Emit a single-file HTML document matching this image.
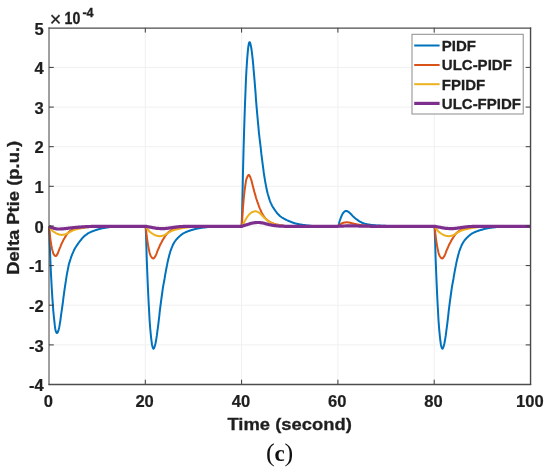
<!DOCTYPE html>
<html><head><meta charset="utf-8"><title>Delta Ptie plot (c)</title>
<style>html,body{margin:0;padding:0;background:#fff}svg{display:block}text{font-family:"Liberation Sans",Arial,Helvetica,sans-serif;font-weight:bold;fill:#1f1f1f;stroke:#1f1f1f;stroke-width:0.3px}.ser{font-family:"Liberation Serif","Times New Roman",serif;fill:#111;stroke:none}</style></head><body>
<svg width="550" height="474" viewBox="0 0 550 474">
<rect width="550" height="474" fill="#fff"/>
<path d="M145.3,27.8 V384.5 M241.6,27.8 V384.5 M337.9,27.8 V384.5 M434.2,27.8 V384.5 M49.0,344.9 H530.5 M49.0,305.2 H530.5 M49.0,265.6 H530.5 M49.0,226.0 H530.5 M49.0,186.3 H530.5 M49.0,146.7 H530.5 M49.0,107.1 H530.5 M49.0,67.4 H530.5" stroke="#f0f0f0" stroke-width="1" fill="none"/>
<g fill="none" stroke-linejoin="round" stroke-linecap="butt">
<path d="M49.0,226.3 L49.5,238.8 L50.0,250.5 L50.4,261.6 L50.9,272.2 L51.4,281.8 L51.9,290.6 L52.4,298.6 L52.9,305.2 L53.3,311.0 L53.8,316.0 L54.3,320.7 L54.8,325.4 L55.3,329.0 L55.7,330.8 L56.2,332.1 L56.7,332.9 L57.2,333.0 L57.7,332.3 L58.1,331.2 L58.6,329.8 L59.1,327.9 L59.6,325.2 L60.1,322.1 L60.6,318.8 L61.0,315.6 L61.5,312.2 L62.0,308.7 L62.5,305.0 L63.0,301.4 L63.4,297.8 L63.9,294.3 L64.4,290.7 L64.9,287.2 L65.4,283.8 L65.9,280.7 L66.3,277.8 L66.8,274.9 L67.3,272.1 L67.8,269.6 L68.3,267.2 L68.7,265.1 L69.2,263.3 L69.7,261.6 L70.2,260.0 L70.7,258.6 L71.1,257.2 L71.6,255.9 L72.1,254.6 L72.6,253.4 L73.1,252.3 L73.6,251.2 L74.0,250.2 L74.5,249.2 L75.0,248.3 L75.5,247.5 L76.0,246.7 L76.4,246.0 L76.9,245.3 L77.4,244.6 L77.9,243.9 L78.4,243.2 L78.9,242.5 L79.3,241.9 L79.8,241.3 L80.3,240.7 L80.8,240.1 L81.3,239.5 L81.7,238.9 L82.2,238.3 L82.7,237.7 L83.2,237.2 L83.7,236.8 L84.1,236.3 L84.6,235.9 L85.1,235.5 L85.6,235.1 L86.1,234.8 L86.6,234.4 L87.0,234.1 L87.5,233.7 L88.0,233.4 L88.5,233.1 L89.0,232.9 L89.4,232.6 L89.9,232.4 L90.4,232.1 L90.9,231.9 L91.4,231.7 L91.9,231.5 L92.3,231.3 L92.8,231.1 L93.3,230.9 L93.8,230.8 L94.3,230.6 L94.7,230.4 L95.2,230.3 L95.7,230.1 L96.2,230.0 L96.7,229.8 L97.2,229.7 L97.6,229.5 L98.1,229.4 L98.6,229.2 L99.1,229.1 L99.6,229.0 L100.0,228.9 L100.5,228.7 L101.0,228.6 L101.5,228.5 L102.0,228.4 L102.4,228.3 L102.9,228.2 L103.4,228.1 L103.9,228.0 L104.4,227.9 L104.9,227.8 L105.3,227.7 L105.8,227.7 L106.3,227.6 L106.8,227.5 L107.3,227.4 L107.7,227.4 L108.2,227.3 L108.7,227.2 L109.2,227.2 L109.7,227.1 L110.2,227.1 L110.6,227.0 L111.1,227.0 L111.6,226.9 L112.1,226.9 L112.6,226.8 L113.0,226.8 L113.5,226.7 L114.0,226.7 L114.5,226.7 L115.0,226.6 L115.4,226.6 L115.9,226.5 L116.4,226.5 L116.9,226.5 L117.4,226.4 L117.9,226.4 L118.3,226.4 L118.8,226.4 L119.3,226.3 L119.8,226.3 L120.3,226.3 L120.7,226.3 L121.2,226.3 L145.3,226.3 L145.8,229.3 L146.3,244.0 L146.7,257.8 L147.2,270.8 L147.7,282.9 L148.2,293.9 L148.7,303.8 L149.2,312.7 L149.6,320.3 L150.1,327.0 L150.6,332.6 L151.1,337.6 L151.6,341.7 L152.0,344.5 L152.5,346.7 L153.0,348.3 L153.5,348.7 L154.0,348.2 L154.4,347.1 L154.9,345.8 L155.4,343.8 L155.9,341.2 L156.4,338.4 L156.9,335.2 L157.3,331.8 L157.8,328.2 L158.3,324.3 L158.8,320.2 L159.3,316.0 L159.7,311.8 L160.2,307.8 L160.7,304.0 L161.2,300.2 L161.7,296.5 L162.2,293.0 L162.6,289.8 L163.1,286.7 L163.6,283.9 L164.1,281.2 L164.6,278.5 L165.0,275.8 L165.5,273.1 L166.0,270.4 L166.5,267.8 L167.0,265.4 L167.4,263.1 L167.9,260.9 L168.4,258.7 L168.9,256.7 L169.4,254.8 L169.9,253.1 L170.3,251.5 L170.8,250.1 L171.3,248.8 L171.8,247.5 L172.3,246.4 L172.7,245.3 L173.2,244.3 L173.7,243.4 L174.2,242.5 L174.7,241.7 L175.2,241.0 L175.6,240.4 L176.1,239.8 L176.6,239.2 L177.1,238.7 L177.6,238.2 L178.0,237.7 L178.5,237.3 L179.0,236.8 L179.5,236.4 L180.0,235.9 L180.4,235.5 L180.9,235.1 L181.4,234.7 L181.9,234.3 L182.4,234.0 L182.9,233.7 L183.3,233.4 L183.8,233.1 L184.3,232.9 L184.8,232.6 L185.3,232.4 L185.7,232.2 L186.2,232.0 L186.7,231.8 L187.2,231.6 L187.7,231.4 L188.2,231.2 L188.6,231.0 L189.1,230.9 L189.6,230.7 L190.1,230.5 L190.6,230.4 L191.0,230.2 L191.5,230.1 L192.0,230.0 L192.5,229.8 L193.0,229.7 L193.4,229.5 L193.9,229.4 L194.4,229.3 L194.9,229.1 L195.4,229.0 L195.9,228.9 L196.3,228.8 L196.8,228.7 L197.3,228.6 L197.8,228.5 L198.3,228.4 L198.7,228.3 L199.2,228.2 L199.7,228.1 L200.2,228.0 L200.7,227.9 L201.2,227.9 L201.6,227.8 L202.1,227.7 L202.6,227.7 L203.1,227.6 L203.6,227.5 L204.0,227.5 L204.5,227.4 L205.0,227.4 L205.5,227.3 L206.0,227.3 L206.5,227.2 L206.9,227.2 L207.4,227.1 L207.9,227.1 L208.4,227.0 L208.9,227.0 L209.3,226.9 L209.8,226.9 L210.3,226.9 L210.8,226.8 L211.3,226.8 L211.7,226.7 L212.2,226.7 L212.7,226.7 L213.2,226.6 L213.7,226.6 L214.2,226.6 L214.6,226.6 L215.1,226.5 L215.6,226.5 L216.1,226.5 L216.6,226.5 L217.0,226.4 L217.5,226.4 L218.0,226.4 L218.5,226.4 L219.0,226.4 L219.5,226.3 L219.9,226.3 L220.4,226.3 L220.9,226.3 L221.4,226.3 L221.9,226.3 L222.3,226.3 L222.8,226.3 L241.6,226.3 L242.1,212.7 L242.6,191.1 L243.0,170.9 L243.5,151.8 L244.0,134.2 L244.5,118.4 L245.0,104.0 L245.5,91.5 L245.9,80.5 L246.4,71.0 L246.9,63.2 L247.4,56.1 L247.9,50.6 L248.3,46.9 L248.8,43.9 L249.3,42.2 L249.8,42.2 L250.3,43.4 L250.7,45.2 L251.2,47.5 L251.7,50.9 L252.2,55.0 L252.7,59.4 L253.2,64.3 L253.6,69.6 L254.1,75.2 L254.6,81.2 L255.1,87.4 L255.6,93.7 L256.0,99.9 L256.5,105.9 L257.0,111.6 L257.5,117.2 L258.0,122.7 L258.5,127.8 L258.9,132.6 L259.4,137.0 L259.9,141.2 L260.4,145.2 L260.9,149.3 L261.3,153.4 L261.8,157.4 L262.3,161.4 L262.8,165.2 L263.3,168.8 L263.7,172.2 L264.2,175.5 L264.7,178.7 L265.2,181.6 L265.7,184.4 L266.2,186.9 L266.6,189.1 L267.1,191.2 L267.6,193.2 L268.1,195.0 L268.6,196.6 L269.0,198.2 L269.5,199.6 L270.0,201.0 L270.5,202.3 L271.0,203.4 L271.5,204.4 L271.9,205.4 L272.4,206.3 L272.9,207.1 L273.4,207.8 L273.9,208.6 L274.3,209.3 L274.8,210.0 L275.3,210.7 L275.8,211.3 L276.3,212.0 L276.7,212.6 L277.2,213.3 L277.7,213.8 L278.2,214.4 L278.7,214.8 L279.2,215.3 L279.6,215.7 L280.1,216.1 L280.6,216.5 L281.1,216.8 L281.6,217.2 L282.0,217.5 L282.5,217.8 L283.0,218.1 L283.5,218.4 L284.0,218.7 L284.5,219.0 L284.9,219.2 L285.4,219.5 L285.9,219.7 L286.4,219.9 L286.9,220.2 L287.3,220.4 L287.8,220.6 L288.3,220.8 L288.8,221.0 L289.3,221.2 L289.8,221.4 L290.2,221.6 L290.7,221.8 L291.2,222.0 L291.7,222.2 L292.2,222.4 L292.6,222.5 L293.1,222.7 L293.6,222.9 L294.1,223.0 L294.6,223.2 L295.0,223.3 L295.5,223.4 L296.0,223.6 L296.5,223.7 L297.0,223.8 L297.5,223.9 L297.9,224.0 L298.4,224.1 L298.9,224.2 L299.4,224.3 L299.9,224.4 L300.3,224.5 L300.8,224.5 L301.3,224.6 L301.8,224.7 L302.3,224.8 L302.8,224.9 L303.2,224.9 L303.7,225.0 L304.2,225.1 L304.7,225.1 L305.2,225.2 L305.6,225.3 L306.1,225.3 L306.6,225.4 L307.1,225.5 L307.6,225.5 L308.0,225.6 L308.5,225.6 L309.0,225.7 L309.5,225.7 L310.0,225.7 L310.5,225.8 L310.9,225.8 L311.4,225.9 L311.9,225.9 L312.4,225.9 L312.9,226.0 L313.3,226.0 L313.8,226.0 L314.3,226.1 L314.8,226.1 L315.3,226.1 L315.8,226.2 L316.2,226.2 L316.7,226.2 L317.2,226.2 L317.7,226.2 L318.2,226.2 L318.6,226.3 L319.1,226.3 L337.9,226.3 L338.4,225.9 L338.9,224.0 L339.3,222.3 L339.8,220.7 L340.3,219.2 L340.8,217.8 L341.3,216.6 L341.8,215.5 L342.2,214.5 L342.7,213.7 L343.2,213.0 L343.7,212.4 L344.2,211.8 L344.6,211.5 L345.1,211.2 L345.6,211.0 L346.1,211.0 L346.6,211.0 L347.0,211.2 L347.5,211.3 L348.0,211.6 L348.5,211.9 L349.0,212.3 L349.5,212.7 L349.9,213.1 L350.4,213.5 L350.9,214.0 L351.4,214.5 L351.9,215.1 L352.3,215.6 L352.8,216.1 L353.3,216.6 L353.8,217.0 L354.3,217.5 L354.8,217.9 L355.2,218.3 L355.7,218.7 L356.2,219.1 L356.7,219.4 L357.2,219.7 L357.6,220.1 L358.1,220.4 L358.6,220.8 L359.1,221.1 L359.6,221.4 L360.0,221.7 L360.5,221.9 L361.0,222.2 L361.5,222.5 L362.0,222.7 L362.5,222.9 L362.9,223.1 L363.4,223.3 L363.9,223.5 L364.4,223.6 L364.9,223.8 L365.3,223.9 L365.8,224.0 L366.3,224.1 L366.8,224.2 L367.3,224.3 L367.8,224.4 L368.2,224.5 L368.7,224.6 L369.2,224.6 L369.7,224.7 L370.2,224.8 L370.6,224.8 L371.1,224.9 L371.6,224.9 L372.1,225.0 L372.6,225.1 L373.0,225.1 L373.5,225.2 L374.0,225.2 L374.5,225.3 L375.0,225.3 L375.5,225.3 L375.9,225.4 L376.4,225.4 L376.9,225.4 L377.4,225.5 L377.9,225.5 L378.3,225.5 L378.8,225.6 L379.3,225.6 L379.8,225.6 L380.3,225.6 L380.8,225.7 L381.2,225.7 L381.7,225.7 L382.2,225.7 L382.7,225.7 L383.2,225.8 L383.6,225.8 L384.1,225.8 L384.6,225.8 L385.1,225.8 L385.6,225.8 L386.1,225.9 L386.5,225.9 L387.0,225.9 L387.5,225.9 L388.0,225.9 L388.5,225.9 L388.9,226.0 L389.4,226.0 L389.9,226.0 L390.4,226.0 L390.9,226.0 L391.3,226.0 L391.8,226.0 L392.3,226.0 L392.8,226.0 L393.3,226.1 L393.8,226.1 L394.2,226.1 L394.7,226.1 L395.2,226.1 L395.7,226.1 L396.2,226.1 L396.6,226.1 L397.1,226.1 L397.6,226.1 L398.1,226.1 L398.6,226.1 L399.1,226.1 L399.5,226.2 L400.0,226.2 L400.5,226.2 L401.0,226.2 L401.5,226.2 L401.9,226.2 L402.4,226.2 L402.9,226.2 L403.4,226.2 L403.9,226.2 L404.3,226.2 L404.8,226.2 L405.3,226.2 L405.8,226.2 L406.3,226.2 L406.8,226.2 L407.2,226.2 L407.7,226.2 L408.2,226.2 L408.7,226.2 L409.2,226.2 L409.6,226.2 L410.1,226.2 L410.6,226.2 L411.1,226.3 L411.6,226.3 L412.1,226.3 L412.5,226.3 L413.0,226.3 L413.5,226.3 L414.0,226.3 L414.5,226.3 L414.9,226.3 L415.4,226.3 L434.2,226.3 L434.7,229.3 L435.2,244.0 L435.6,257.8 L436.1,270.8 L436.6,282.9 L437.1,293.9 L437.6,303.8 L438.1,312.7 L438.5,320.3 L439.0,327.0 L439.5,332.6 L440.0,337.6 L440.5,341.7 L440.9,344.5 L441.4,346.7 L441.9,348.3 L442.4,348.7 L442.9,348.2 L443.3,347.1 L443.8,345.8 L444.3,343.8 L444.8,341.2 L445.3,338.4 L445.8,335.2 L446.2,331.8 L446.7,328.2 L447.2,324.3 L447.7,320.2 L448.2,316.0 L448.6,311.8 L449.1,307.8 L449.6,304.0 L450.1,300.2 L450.6,296.5 L451.1,293.0 L451.5,289.8 L452.0,286.7 L452.5,283.9 L453.0,281.2 L453.5,278.5 L453.9,275.8 L454.4,273.1 L454.9,270.4 L455.4,267.8 L455.9,265.4 L456.3,263.1 L456.8,260.9 L457.3,258.7 L457.8,256.7 L458.3,254.8 L458.8,253.1 L459.2,251.5 L459.7,250.1 L460.2,248.8 L460.7,247.5 L461.2,246.4 L461.6,245.3 L462.1,244.3 L462.6,243.4 L463.1,242.5 L463.6,241.7 L464.1,241.0 L464.5,240.4 L465.0,239.8 L465.5,239.2 L466.0,238.7 L466.5,238.2 L466.9,237.7 L467.4,237.3 L467.9,236.8 L468.4,236.4 L468.9,235.9 L469.3,235.5 L469.8,235.1 L470.3,234.7 L470.8,234.3 L471.3,234.0 L471.8,233.7 L472.2,233.4 L472.7,233.1 L473.2,232.9 L473.7,232.6 L474.2,232.4 L474.6,232.2 L475.1,232.0 L475.6,231.8 L476.1,231.6 L476.6,231.4 L477.1,231.2 L477.5,231.0 L478.0,230.9 L478.5,230.7 L479.0,230.5 L479.5,230.4 L479.9,230.2 L480.4,230.1 L480.9,230.0 L481.4,229.8 L481.9,229.7 L482.4,229.5 L482.8,229.4 L483.3,229.3 L483.8,229.1 L484.3,229.0 L484.8,228.9 L485.2,228.8 L485.7,228.7 L486.2,228.6 L486.7,228.5 L487.2,228.4 L487.6,228.3 L488.1,228.2 L488.6,228.1 L489.1,228.0 L489.6,227.9 L490.1,227.9 L490.5,227.8 L491.0,227.7 L491.5,227.7 L492.0,227.6 L492.5,227.5 L492.9,227.5 L493.4,227.4 L493.9,227.4 L494.4,227.3 L494.9,227.3 L495.4,227.2 L495.8,227.2 L496.3,227.1 L496.8,227.1 L497.3,227.0 L497.8,227.0 L498.2,226.9 L498.7,226.9 L499.2,226.9 L499.7,226.8 L500.2,226.8 L500.6,226.7 L501.1,226.7 L501.6,226.7 L502.1,226.6 L502.6,226.6 L503.1,226.6 L503.5,226.6 L504.0,226.5 L504.5,226.5 L505.0,226.5 L505.5,226.5 L505.9,226.4 L506.4,226.4 L506.9,226.4 L507.4,226.4 L507.9,226.4 L508.4,226.3 L508.8,226.3 L509.3,226.3 L509.8,226.3 L510.3,226.3 L510.8,226.3 L511.2,226.3 L511.7,226.3 L530.5,226.3" stroke="#0072BD" stroke-width="2"/>
<path d="M49.0,226.3 L49.5,231.1 L50.0,235.5 L50.4,239.3 L50.9,242.7 L51.4,245.7 L51.9,248.3 L52.4,250.3 L52.9,252.1 L53.3,253.5 L53.8,254.4 L54.3,255.1 L54.8,255.6 L55.3,256.0 L55.7,256.1 L56.2,255.8 L56.7,255.2 L57.2,254.4 L57.7,253.6 L58.1,252.5 L58.6,251.2 L59.1,249.9 L59.6,248.6 L60.1,247.4 L60.6,246.3 L61.0,245.1 L61.5,244.0 L62.0,242.9 L62.5,241.9 L63.0,241.0 L63.4,240.0 L63.9,239.1 L64.4,238.3 L64.9,237.4 L65.4,236.6 L65.9,235.9 L66.3,235.1 L66.8,234.4 L67.3,233.8 L67.8,233.2 L68.3,232.7 L68.7,232.2 L69.2,231.7 L69.7,231.3 L70.2,230.9 L70.7,230.6 L71.1,230.3 L71.6,230.0 L72.1,229.7 L72.6,229.5 L73.1,229.2 L73.6,229.0 L74.0,228.8 L74.5,228.7 L75.0,228.5 L75.5,228.3 L76.0,228.2 L76.4,228.1 L76.9,227.9 L77.4,227.8 L77.9,227.7 L78.4,227.6 L78.9,227.5 L79.3,227.4 L79.8,227.3 L80.3,227.3 L80.8,227.2 L81.3,227.1 L81.7,227.1 L82.2,227.0 L82.7,226.9 L83.2,226.9 L83.7,226.8 L84.1,226.8 L84.6,226.7 L85.1,226.7 L85.6,226.6 L86.1,226.6 L86.6,226.6 L87.0,226.5 L87.5,226.5 L88.0,226.5 L88.5,226.4 L89.0,226.4 L89.4,226.4 L89.9,226.3 L90.4,226.3 L90.9,226.3 L91.4,226.3 L91.9,226.3 L92.3,226.3 L92.8,226.3 L145.3,226.3 L145.8,227.2 L146.3,231.8 L146.7,236.0 L147.2,239.7 L147.7,242.9 L148.2,246.0 L148.7,248.6 L149.2,250.9 L149.6,252.7 L150.1,254.4 L150.6,255.7 L151.1,256.5 L151.6,257.2 L152.0,257.8 L152.5,258.2 L153.0,258.5 L153.5,258.4 L154.0,258.1 L154.4,257.5 L154.9,256.8 L155.4,256.1 L155.9,255.1 L156.4,253.9 L156.9,252.6 L157.3,251.4 L157.8,250.2 L158.3,249.1 L158.8,248.0 L159.3,246.9 L159.7,245.8 L160.2,244.8 L160.7,243.8 L161.2,242.9 L161.7,242.0 L162.2,241.1 L162.6,240.2 L163.1,239.4 L163.6,238.6 L164.1,237.8 L164.6,237.1 L165.0,236.3 L165.5,235.7 L166.0,235.0 L166.5,234.4 L167.0,233.8 L167.4,233.3 L167.9,232.8 L168.4,232.4 L168.9,232.0 L169.4,231.6 L169.9,231.2 L170.3,230.9 L170.8,230.6 L171.3,230.3 L171.8,230.1 L172.3,229.8 L172.7,229.6 L173.2,229.4 L173.7,229.2 L174.2,229.0 L174.7,228.9 L175.2,228.7 L175.6,228.5 L176.1,228.4 L176.6,228.3 L177.1,228.2 L177.6,228.0 L178.0,227.9 L178.5,227.8 L179.0,227.7 L179.5,227.6 L180.0,227.6 L180.4,227.5 L180.9,227.4 L181.4,227.3 L181.9,227.3 L182.4,227.2 L182.9,227.1 L183.3,227.1 L183.8,227.0 L184.3,226.9 L184.8,226.9 L185.3,226.8 L185.7,226.8 L186.2,226.7 L186.7,226.7 L187.2,226.7 L187.7,226.6 L188.2,226.6 L188.6,226.6 L189.1,226.5 L189.6,226.5 L190.1,226.5 L190.6,226.4 L191.0,226.4 L191.5,226.4 L192.0,226.4 L192.5,226.3 L193.0,226.3 L193.4,226.3 L193.9,226.3 L194.4,226.3 L194.9,226.3 L195.4,226.3 L241.6,226.3 L242.1,221.4 L242.6,213.8 L243.0,207.1 L243.5,201.3 L244.0,196.0 L244.5,191.3 L245.0,187.3 L245.5,184.1 L245.9,181.3 L246.4,179.1 L246.9,177.8 L247.4,176.7 L247.9,175.7 L248.3,175.1 L248.8,174.9 L249.3,175.3 L249.8,176.1 L250.3,177.1 L250.7,178.3 L251.2,179.6 L251.7,181.4 L252.2,183.4 L252.7,185.4 L253.2,187.3 L253.6,189.1 L254.1,190.9 L254.6,192.7 L255.1,194.4 L255.6,196.1 L256.0,197.7 L256.5,199.2 L257.0,200.6 L257.5,202.1 L258.0,203.4 L258.5,204.8 L258.9,206.1 L259.4,207.4 L259.9,208.6 L260.4,209.7 L260.9,210.8 L261.3,211.9 L261.8,212.9 L262.3,213.9 L262.8,214.7 L263.3,215.5 L263.7,216.2 L264.2,216.9 L264.7,217.5 L265.2,218.1 L265.7,218.6 L266.2,219.1 L266.6,219.6 L267.1,220.0 L267.6,220.4 L268.1,220.8 L268.6,221.1 L269.0,221.4 L269.5,221.7 L270.0,222.0 L270.5,222.3 L271.0,222.5 L271.5,222.8 L271.9,223.0 L272.4,223.2 L272.9,223.4 L273.4,223.5 L273.9,223.7 L274.3,223.9 L274.8,224.0 L275.3,224.1 L275.8,224.3 L276.3,224.4 L276.7,224.5 L277.2,224.6 L277.7,224.7 L278.2,224.8 L278.7,225.0 L279.2,225.1 L279.6,225.1 L280.1,225.2 L280.6,225.3 L281.1,225.4 L281.6,225.5 L282.0,225.6 L282.5,225.6 L283.0,225.7 L283.5,225.7 L284.0,225.8 L284.5,225.8 L284.9,225.9 L285.4,225.9 L285.9,226.0 L286.4,226.0 L286.9,226.1 L287.3,226.1 L287.8,226.1 L288.3,226.2 L288.8,226.2 L289.3,226.2 L289.8,226.2 L290.2,226.3 L290.7,226.3 L337.9,226.3 L338.4,226.0 L338.9,225.5 L339.3,225.1 L339.8,224.7 L340.3,224.3 L340.8,224.0 L341.3,223.7 L341.8,223.4 L342.2,223.2 L342.7,223.0 L343.2,222.8 L343.7,222.7 L344.2,222.6 L344.6,222.5 L345.1,222.4 L345.6,222.4 L346.1,222.3 L346.6,222.3 L347.0,222.3 L347.5,222.3 L348.0,222.4 L348.5,222.5 L349.0,222.5 L349.5,222.6 L349.9,222.7 L350.4,222.8 L350.9,223.0 L351.4,223.1 L351.9,223.2 L352.3,223.4 L352.8,223.5 L353.3,223.6 L353.8,223.7 L354.3,223.8 L354.8,223.9 L355.2,224.0 L355.7,224.1 L356.2,224.2 L356.7,224.3 L357.2,224.4 L357.6,224.5 L358.1,224.6 L358.6,224.7 L359.1,224.8 L359.6,224.9 L360.0,224.9 L360.5,225.0 L361.0,225.1 L361.5,225.2 L362.0,225.2 L362.5,225.3 L362.9,225.4 L363.4,225.4 L363.9,225.5 L364.4,225.5 L364.9,225.6 L365.3,225.6 L365.8,225.6 L366.3,225.7 L366.8,225.7 L367.3,225.7 L367.8,225.8 L368.2,225.8 L368.7,225.8 L369.2,225.8 L369.7,225.9 L370.2,225.9 L370.6,225.9 L371.1,225.9 L371.6,225.9 L372.1,226.0 L372.6,226.0 L373.0,226.0 L373.5,226.0 L374.0,226.0 L374.5,226.0 L375.0,226.0 L375.5,226.1 L375.9,226.1 L376.4,226.1 L376.9,226.1 L377.4,226.1 L377.9,226.1 L378.3,226.1 L378.8,226.1 L379.3,226.1 L379.8,226.1 L380.3,226.1 L380.8,226.2 L381.2,226.2 L381.7,226.2 L382.2,226.2 L382.7,226.2 L383.2,226.2 L383.6,226.2 L384.1,226.2 L384.6,226.2 L385.1,226.2 L385.6,226.2 L386.1,226.2 L386.5,226.2 L387.0,226.2 L387.5,226.2 L388.0,226.2 L388.5,226.2 L388.9,226.2 L389.4,226.2 L389.9,226.2 L390.4,226.2 L390.9,226.3 L391.3,226.3 L391.8,226.3 L392.3,226.3 L392.8,226.3 L393.3,226.3 L393.8,226.3 L394.2,226.3 L394.7,226.3 L395.2,226.3 L395.7,226.3 L434.2,226.3 L434.7,227.2 L435.2,231.8 L435.6,236.0 L436.1,239.7 L436.6,242.9 L437.1,246.0 L437.6,248.6 L438.1,250.9 L438.5,252.7 L439.0,254.4 L439.5,255.7 L440.0,256.5 L440.5,257.2 L440.9,257.8 L441.4,258.2 L441.9,258.5 L442.4,258.4 L442.9,258.1 L443.3,257.5 L443.8,256.8 L444.3,256.1 L444.8,255.1 L445.3,253.9 L445.8,252.6 L446.2,251.4 L446.7,250.2 L447.2,249.1 L447.7,248.0 L448.2,246.9 L448.6,245.8 L449.1,244.8 L449.6,243.8 L450.1,242.9 L450.6,242.0 L451.1,241.1 L451.5,240.2 L452.0,239.4 L452.5,238.6 L453.0,237.8 L453.5,237.1 L453.9,236.3 L454.4,235.7 L454.9,235.0 L455.4,234.4 L455.9,233.8 L456.3,233.3 L456.8,232.8 L457.3,232.4 L457.8,232.0 L458.3,231.6 L458.8,231.2 L459.2,230.9 L459.7,230.6 L460.2,230.3 L460.7,230.1 L461.2,229.8 L461.6,229.6 L462.1,229.4 L462.6,229.2 L463.1,229.0 L463.6,228.9 L464.1,228.7 L464.5,228.5 L465.0,228.4 L465.5,228.3 L466.0,228.2 L466.5,228.0 L466.9,227.9 L467.4,227.8 L467.9,227.7 L468.4,227.6 L468.9,227.6 L469.3,227.5 L469.8,227.4 L470.3,227.3 L470.8,227.3 L471.3,227.2 L471.8,227.1 L472.2,227.1 L472.7,227.0 L473.2,226.9 L473.7,226.9 L474.2,226.8 L474.6,226.8 L475.1,226.7 L475.6,226.7 L476.1,226.7 L476.6,226.6 L477.1,226.6 L477.5,226.6 L478.0,226.5 L478.5,226.5 L479.0,226.5 L479.5,226.4 L479.9,226.4 L480.4,226.4 L480.9,226.4 L481.4,226.3 L481.9,226.3 L482.4,226.3 L482.8,226.3 L483.3,226.3 L483.8,226.3 L484.3,226.3 L530.5,226.3" stroke="#D95319" stroke-width="2"/>
<path d="M49.0,226.3 L49.5,227.0 L50.0,227.7 L50.4,228.4 L50.9,229.1 L51.4,229.6 L51.9,230.2 L52.4,230.7 L52.9,231.1 L53.3,231.5 L53.8,231.8 L54.3,232.1 L54.8,232.4 L55.3,232.7 L55.7,233.0 L56.2,233.3 L56.7,233.6 L57.2,233.8 L57.7,234.0 L58.1,234.2 L58.6,234.3 L59.1,234.4 L59.6,234.5 L60.1,234.7 L60.6,234.7 L61.0,234.8 L61.5,234.9 L62.0,234.9 L62.5,234.8 L63.0,234.8 L63.4,234.7 L63.9,234.6 L64.4,234.5 L64.9,234.4 L65.4,234.3 L65.9,234.2 L66.3,234.0 L66.8,233.7 L67.3,233.5 L67.8,233.2 L68.3,232.9 L68.7,232.7 L69.2,232.4 L69.7,232.2 L70.2,231.9 L70.7,231.6 L71.1,231.4 L71.6,231.1 L72.1,230.9 L72.6,230.6 L73.1,230.4 L73.6,230.2 L74.0,230.0 L74.5,229.8 L75.0,229.7 L75.5,229.5 L76.0,229.4 L76.4,229.3 L76.9,229.2 L77.4,229.0 L77.9,228.9 L78.4,228.8 L78.9,228.7 L79.3,228.6 L79.8,228.5 L80.3,228.4 L80.8,228.3 L81.3,228.2 L81.7,228.2 L82.2,228.1 L82.7,228.0 L83.2,227.9 L83.7,227.8 L84.1,227.8 L84.6,227.7 L85.1,227.6 L85.6,227.5 L86.1,227.5 L86.6,227.4 L87.0,227.3 L87.5,227.3 L88.0,227.2 L88.5,227.2 L89.0,227.1 L89.4,227.1 L89.9,227.0 L90.4,227.0 L90.9,226.9 L91.4,226.9 L91.9,226.8 L92.3,226.8 L92.8,226.7 L93.3,226.7 L93.8,226.7 L94.3,226.6 L94.7,226.6 L95.2,226.6 L95.7,226.6 L96.2,226.5 L96.7,226.5 L97.2,226.5 L97.6,226.4 L98.1,226.4 L98.6,226.4 L99.1,226.4 L99.6,226.4 L100.0,226.3 L100.5,226.3 L101.0,226.3 L101.5,226.3 L102.0,226.3 L145.8,226.3 L146.3,227.1 L146.7,227.9 L147.2,228.6 L147.7,229.3 L148.2,229.9 L148.7,230.5 L149.2,231.1 L149.6,231.6 L150.1,232.0 L150.6,232.4 L151.1,232.8 L151.6,233.1 L152.0,233.4 L152.5,233.7 L153.0,234.0 L153.5,234.3 L154.0,234.6 L154.4,234.9 L154.9,235.1 L155.4,235.3 L155.9,235.5 L156.4,235.6 L156.9,235.7 L157.3,235.9 L157.8,236.0 L158.3,236.1 L158.8,236.1 L159.3,236.2 L159.7,236.2 L160.2,236.2 L160.7,236.1 L161.2,236.0 L161.7,235.9 L162.2,235.8 L162.6,235.7 L163.1,235.6 L163.6,235.4 L164.1,235.3 L164.6,235.0 L165.0,234.8 L165.5,234.5 L166.0,234.2 L166.5,233.9 L167.0,233.6 L167.4,233.3 L167.9,233.1 L168.4,232.8 L168.9,232.5 L169.4,232.2 L169.9,231.9 L170.3,231.7 L170.8,231.4 L171.3,231.2 L171.8,230.9 L172.3,230.7 L172.7,230.5 L173.2,230.3 L173.7,230.2 L174.2,230.0 L174.7,229.9 L175.2,229.7 L175.6,229.6 L176.1,229.5 L176.6,229.4 L177.1,229.2 L177.6,229.1 L178.0,229.0 L178.5,228.9 L179.0,228.8 L179.5,228.7 L180.0,228.6 L180.4,228.5 L180.9,228.4 L181.4,228.3 L181.9,228.3 L182.4,228.2 L182.9,228.1 L183.3,228.0 L183.8,227.9 L184.3,227.8 L184.8,227.8 L185.3,227.7 L185.7,227.6 L186.2,227.5 L186.7,227.5 L187.2,227.4 L187.7,227.3 L188.2,227.3 L188.6,227.2 L189.1,227.2 L189.6,227.1 L190.1,227.1 L190.6,227.0 L191.0,227.0 L191.5,226.9 L192.0,226.9 L192.5,226.8 L193.0,226.8 L193.4,226.8 L193.9,226.7 L194.4,226.7 L194.9,226.7 L195.4,226.6 L195.9,226.6 L196.3,226.6 L196.8,226.5 L197.3,226.5 L197.8,226.5 L198.3,226.4 L198.7,226.4 L199.2,226.4 L199.7,226.4 L200.2,226.4 L200.7,226.3 L201.2,226.3 L201.6,226.3 L202.1,226.3 L202.6,226.3 L242.1,226.3 L242.6,225.3 L243.0,224.3 L243.5,223.3 L244.0,222.4 L244.5,221.5 L245.0,220.7 L245.5,219.8 L245.9,219.0 L246.4,218.2 L246.9,217.4 L247.4,216.7 L247.9,216.0 L248.3,215.5 L248.8,214.9 L249.3,214.4 L249.8,213.9 L250.3,213.5 L250.7,213.1 L251.2,212.7 L251.7,212.4 L252.2,212.1 L252.7,212.0 L253.2,211.8 L253.6,211.6 L254.1,211.4 L254.6,211.3 L255.1,211.3 L255.6,211.2 L256.0,211.3 L256.5,211.4 L257.0,211.6 L257.5,211.8 L258.0,212.0 L258.5,212.3 L258.9,212.6 L259.4,212.9 L259.9,213.2 L260.4,213.7 L260.9,214.2 L261.3,214.7 L261.8,215.2 L262.3,215.8 L262.8,216.3 L263.3,216.7 L263.7,217.2 L264.2,217.7 L264.7,218.1 L265.2,218.6 L265.7,219.1 L266.2,219.5 L266.6,219.9 L267.1,220.3 L267.6,220.7 L268.1,221.1 L268.6,221.4 L269.0,221.7 L269.5,222.1 L270.0,222.4 L270.5,222.7 L271.0,222.9 L271.5,223.2 L271.9,223.4 L272.4,223.6 L272.9,223.8 L273.4,223.9 L273.9,224.1 L274.3,224.3 L274.8,224.4 L275.3,224.6 L275.8,224.7 L276.3,224.8 L276.7,224.9 L277.2,225.0 L277.7,225.1 L278.2,225.2 L278.7,225.3 L279.2,225.4 L279.6,225.5 L280.1,225.6 L280.6,225.6 L281.1,225.7 L281.6,225.8 L282.0,225.8 L282.5,225.9 L283.0,225.9 L283.5,226.0 L284.0,226.0 L284.5,226.0 L284.9,226.0 L285.4,226.1 L285.9,226.1 L286.4,226.1 L286.9,226.1 L287.3,226.2 L287.8,226.2 L288.3,226.2 L288.8,226.2 L289.3,226.2 L289.8,226.2 L290.2,226.3 L290.7,226.3 L291.2,226.3 L291.7,226.3 L337.9,226.3 L338.4,226.2 L338.9,226.2 L339.3,226.1 L339.8,226.1 L340.3,226.1 L340.8,226.0 L341.3,226.0 L341.8,226.0 L342.2,225.9 L342.7,225.9 L343.2,225.9 L343.7,225.8 L344.2,225.8 L344.6,225.8 L345.1,225.8 L345.6,225.8 L346.1,225.7 L346.6,225.7 L347.0,225.7 L347.5,225.7 L348.0,225.7 L348.5,225.7 L349.0,225.7 L349.5,225.7 L349.9,225.7 L350.4,225.7 L350.9,225.7 L351.4,225.7 L351.9,225.7 L352.3,225.7 L352.8,225.7 L353.3,225.7 L353.8,225.7 L354.3,225.7 L354.8,225.8 L355.2,225.8 L355.7,225.8 L356.2,225.8 L356.7,225.9 L357.2,225.9 L357.6,225.9 L358.1,225.9 L358.6,226.0 L359.1,226.0 L359.6,226.0 L360.0,226.0 L360.5,226.0 L361.0,226.0 L361.5,226.1 L362.0,226.1 L362.5,226.1 L362.9,226.1 L363.4,226.1 L363.9,226.1 L364.4,226.1 L364.9,226.2 L365.3,226.2 L365.8,226.2 L366.3,226.2 L366.8,226.2 L367.3,226.2 L367.8,226.2 L368.2,226.2 L368.7,226.2 L369.2,226.2 L369.7,226.2 L370.2,226.2 L370.6,226.2 L371.1,226.2 L371.6,226.2 L372.1,226.2 L372.6,226.2 L373.0,226.2 L373.5,226.3 L374.0,226.3 L374.5,226.3 L375.0,226.3 L375.5,226.3 L375.9,226.3 L376.4,226.3 L376.9,226.3 L377.4,226.3 L377.9,226.3 L378.3,226.3 L378.8,226.3 L379.3,226.3 L379.8,226.3 L380.3,226.3 L380.8,226.3 L381.2,226.3 L434.7,226.3 L435.2,227.1 L435.6,227.9 L436.1,228.6 L436.6,229.3 L437.1,229.9 L437.6,230.5 L438.1,231.1 L438.5,231.6 L439.0,232.0 L439.5,232.4 L440.0,232.8 L440.5,233.1 L440.9,233.4 L441.4,233.7 L441.9,234.0 L442.4,234.3 L442.9,234.6 L443.3,234.9 L443.8,235.1 L444.3,235.3 L444.8,235.5 L445.3,235.6 L445.8,235.7 L446.2,235.9 L446.7,236.0 L447.2,236.1 L447.7,236.1 L448.2,236.2 L448.6,236.2 L449.1,236.2 L449.6,236.1 L450.1,236.0 L450.6,235.9 L451.1,235.8 L451.5,235.7 L452.0,235.6 L452.5,235.4 L453.0,235.3 L453.5,235.0 L453.9,234.8 L454.4,234.5 L454.9,234.2 L455.4,233.9 L455.9,233.6 L456.3,233.3 L456.8,233.1 L457.3,232.8 L457.8,232.5 L458.3,232.2 L458.8,231.9 L459.2,231.7 L459.7,231.4 L460.2,231.2 L460.7,230.9 L461.2,230.7 L461.6,230.5 L462.1,230.3 L462.6,230.2 L463.1,230.0 L463.6,229.9 L464.1,229.7 L464.5,229.6 L465.0,229.5 L465.5,229.4 L466.0,229.2 L466.5,229.1 L466.9,229.0 L467.4,228.9 L467.9,228.8 L468.4,228.7 L468.9,228.6 L469.3,228.5 L469.8,228.4 L470.3,228.3 L470.8,228.3 L471.3,228.2 L471.8,228.1 L472.2,228.0 L472.7,227.9 L473.2,227.8 L473.7,227.8 L474.2,227.7 L474.6,227.6 L475.1,227.5 L475.6,227.5 L476.1,227.4 L476.6,227.3 L477.1,227.3 L477.5,227.2 L478.0,227.2 L478.5,227.1 L479.0,227.1 L479.5,227.0 L479.9,227.0 L480.4,226.9 L480.9,226.9 L481.4,226.8 L481.9,226.8 L482.4,226.8 L482.8,226.7 L483.3,226.7 L483.8,226.7 L484.3,226.6 L484.8,226.6 L485.2,226.6 L485.7,226.5 L486.2,226.5 L486.7,226.5 L487.2,226.4 L487.6,226.4 L488.1,226.4 L488.6,226.4 L489.1,226.4 L489.6,226.3 L490.1,226.3 L490.5,226.3 L491.0,226.3 L491.5,226.3 L530.5,226.3" stroke="#EDB120" stroke-width="2"/>
<path d="M49.0,226.3 L49.5,226.5 L50.0,226.8 L50.4,227.0 L50.9,227.2 L51.4,227.4 L51.9,227.6 L52.4,227.8 L52.9,227.9 L53.3,228.1 L53.8,228.2 L54.3,228.4 L54.8,228.5 L55.3,228.6 L55.7,228.7 L56.2,228.8 L56.7,228.9 L57.2,229.0 L57.7,229.0 L58.1,229.0 L58.6,229.0 L59.1,229.0 L59.6,229.0 L60.1,229.0 L60.6,229.0 L61.0,228.9 L61.5,228.9 L62.0,228.9 L62.5,228.8 L63.0,228.8 L63.4,228.8 L63.9,228.7 L64.4,228.7 L64.9,228.6 L65.4,228.6 L65.9,228.5 L66.3,228.5 L66.8,228.4 L67.3,228.3 L67.8,228.3 L68.3,228.2 L68.7,228.2 L69.2,228.1 L69.7,228.0 L70.2,228.0 L70.7,227.9 L71.1,227.9 L71.6,227.8 L72.1,227.8 L72.6,227.7 L73.1,227.7 L73.6,227.6 L74.0,227.6 L74.5,227.5 L75.0,227.5 L75.5,227.4 L76.0,227.4 L76.4,227.4 L76.9,227.3 L77.4,227.3 L77.9,227.2 L78.4,227.2 L78.9,227.2 L79.3,227.1 L79.8,227.1 L80.3,227.1 L80.8,227.0 L81.3,227.0 L81.7,226.9 L82.2,226.9 L82.7,226.9 L83.2,226.8 L83.7,226.8 L84.1,226.8 L84.6,226.8 L85.1,226.7 L85.6,226.7 L86.1,226.7 L86.6,226.6 L87.0,226.6 L87.5,226.6 L88.0,226.6 L88.5,226.6 L89.0,226.5 L89.4,226.5 L89.9,226.5 L90.4,226.5 L90.9,226.5 L91.4,226.4 L91.9,226.4 L92.3,226.4 L92.8,226.4 L93.3,226.4 L93.8,226.4 L94.3,226.4 L94.7,226.3 L95.2,226.3 L95.7,226.3 L96.2,226.3 L96.7,226.3 L97.2,226.3 L97.6,226.3 L98.1,226.3 L98.6,226.3 L99.1,226.3 L99.6,226.3 L100.0,226.3 L100.5,226.3 L101.0,226.3 L101.5,226.3 L102.0,226.3 L145.8,226.3 L146.3,226.4 L146.7,226.5 L147.2,226.6 L147.7,226.7 L148.2,226.8 L148.7,226.9 L149.2,227.0 L149.6,227.1 L150.1,227.1 L150.6,227.2 L151.1,227.3 L151.6,227.4 L152.0,227.5 L152.5,227.6 L153.0,227.7 L153.5,227.8 L154.0,227.9 L154.4,227.9 L154.9,228.0 L155.4,228.1 L155.9,228.2 L156.4,228.3 L156.9,228.3 L157.3,228.4 L157.8,228.4 L158.3,228.4 L158.8,228.5 L159.3,228.5 L159.7,228.5 L160.2,228.6 L160.7,228.6 L161.2,228.6 L161.7,228.6 L162.2,228.6 L162.6,228.6 L163.1,228.6 L163.6,228.6 L164.1,228.6 L164.6,228.6 L165.0,228.5 L165.5,228.5 L166.0,228.4 L166.5,228.4 L167.0,228.3 L167.4,228.3 L167.9,228.2 L168.4,228.2 L168.9,228.1 L169.4,228.0 L169.9,227.9 L170.3,227.9 L170.8,227.8 L171.3,227.7 L171.8,227.6 L172.3,227.5 L172.7,227.5 L173.2,227.4 L173.7,227.3 L174.2,227.3 L174.7,227.2 L175.2,227.1 L175.6,227.1 L176.1,227.0 L176.6,227.0 L177.1,226.9 L177.6,226.9 L178.0,226.8 L178.5,226.8 L179.0,226.7 L179.5,226.7 L180.0,226.7 L180.4,226.6 L180.9,226.6 L181.4,226.6 L181.9,226.5 L182.4,226.5 L182.9,226.5 L183.3,226.4 L183.8,226.4 L184.3,226.4 L184.8,226.4 L185.3,226.4 L185.7,226.4 L186.2,226.3 L186.7,226.3 L187.2,226.3 L187.7,226.3 L188.2,226.3 L188.6,226.3 L189.1,226.3 L189.6,226.3 L190.1,226.3 L190.6,226.3 L191.0,226.3 L242.1,226.3 L242.6,226.1 L243.0,225.9 L243.5,225.8 L244.0,225.6 L244.5,225.4 L245.0,225.3 L245.5,225.1 L245.9,225.0 L246.4,224.8 L246.9,224.7 L247.4,224.5 L247.9,224.4 L248.3,224.2 L248.8,224.1 L249.3,223.9 L249.8,223.8 L250.3,223.6 L250.7,223.5 L251.2,223.3 L251.7,223.2 L252.2,223.1 L252.7,223.0 L253.2,222.9 L253.6,222.8 L254.1,222.8 L254.6,222.7 L255.1,222.7 L255.6,222.6 L256.0,222.6 L256.5,222.5 L257.0,222.5 L257.5,222.5 L258.0,222.5 L258.5,222.5 L258.9,222.5 L259.4,222.5 L259.9,222.6 L260.4,222.6 L260.9,222.7 L261.3,222.8 L261.8,222.9 L262.3,222.9 L262.8,223.0 L263.3,223.1 L263.7,223.2 L264.2,223.3 L264.7,223.4 L265.2,223.6 L265.7,223.7 L266.2,223.9 L266.6,224.0 L267.1,224.1 L267.6,224.3 L268.1,224.4 L268.6,224.5 L269.0,224.6 L269.5,224.7 L270.0,224.8 L270.5,224.9 L271.0,225.0 L271.5,225.1 L271.9,225.2 L272.4,225.3 L272.9,225.4 L273.4,225.4 L273.9,225.5 L274.3,225.6 L274.8,225.6 L275.3,225.7 L275.8,225.7 L276.3,225.8 L276.7,225.9 L277.2,225.9 L277.7,225.9 L278.2,226.0 L278.7,226.0 L279.2,226.1 L279.6,226.1 L280.1,226.1 L280.6,226.1 L281.1,226.1 L281.6,226.2 L282.0,226.2 L282.5,226.2 L283.0,226.2 L283.5,226.2 L284.0,226.3 L284.5,226.3 L284.9,226.3 L285.4,226.3 L337.9,226.3 L338.4,226.2 L338.9,226.2 L339.3,226.2 L339.8,226.2 L340.3,226.2 L340.8,226.1 L341.3,226.1 L341.8,226.1 L342.2,226.1 L342.7,226.1 L343.2,226.1 L343.7,226.0 L344.2,226.0 L344.6,226.0 L345.1,226.0 L345.6,226.0 L346.1,225.9 L346.6,225.9 L347.0,225.9 L347.5,225.9 L348.0,225.9 L348.5,225.9 L349.0,225.9 L349.5,225.9 L349.9,225.9 L350.4,225.9 L350.9,225.9 L351.4,225.9 L351.9,225.9 L352.3,225.9 L352.8,225.9 L353.3,225.9 L353.8,225.9 L354.3,225.9 L354.8,225.9 L355.2,225.9 L355.7,225.9 L356.2,226.0 L356.7,226.0 L357.2,226.0 L357.6,226.0 L358.1,226.0 L358.6,226.0 L359.1,226.1 L359.6,226.1 L360.0,226.1 L360.5,226.1 L361.0,226.1 L361.5,226.1 L362.0,226.1 L362.5,226.1 L362.9,226.2 L363.4,226.2 L363.9,226.2 L364.4,226.2 L364.9,226.2 L365.3,226.2 L365.8,226.2 L366.3,226.2 L366.8,226.2 L367.3,226.2 L367.8,226.2 L368.2,226.2 L368.7,226.2 L369.2,226.2 L369.7,226.2 L370.2,226.3 L370.6,226.3 L371.1,226.3 L371.6,226.3 L372.1,226.3 L372.6,226.3 L373.0,226.3 L373.5,226.3 L374.0,226.3 L434.7,226.3 L435.2,226.4 L435.6,226.5 L436.1,226.6 L436.6,226.7 L437.1,226.8 L437.6,226.9 L438.1,227.0 L438.5,227.1 L439.0,227.1 L439.5,227.2 L440.0,227.3 L440.5,227.4 L440.9,227.5 L441.4,227.6 L441.9,227.7 L442.4,227.8 L442.9,227.9 L443.3,227.9 L443.8,228.0 L444.3,228.1 L444.8,228.2 L445.3,228.3 L445.8,228.3 L446.2,228.4 L446.7,228.4 L447.2,228.4 L447.7,228.5 L448.2,228.5 L448.6,228.5 L449.1,228.6 L449.6,228.6 L450.1,228.6 L450.6,228.6 L451.1,228.6 L451.5,228.6 L452.0,228.6 L452.5,228.6 L453.0,228.6 L453.5,228.6 L453.9,228.5 L454.4,228.5 L454.9,228.4 L455.4,228.4 L455.9,228.3 L456.3,228.3 L456.8,228.2 L457.3,228.2 L457.8,228.1 L458.3,228.0 L458.8,227.9 L459.2,227.9 L459.7,227.8 L460.2,227.7 L460.7,227.6 L461.2,227.5 L461.6,227.5 L462.1,227.4 L462.6,227.3 L463.1,227.3 L463.6,227.2 L464.1,227.1 L464.5,227.1 L465.0,227.0 L465.5,227.0 L466.0,226.9 L466.5,226.9 L466.9,226.8 L467.4,226.8 L467.9,226.7 L468.4,226.7 L468.9,226.7 L469.3,226.6 L469.8,226.6 L470.3,226.6 L470.8,226.5 L471.3,226.5 L471.8,226.5 L472.2,226.4 L472.7,226.4 L473.2,226.4 L473.7,226.4 L474.2,226.4 L474.6,226.4 L475.1,226.3 L475.6,226.3 L476.1,226.3 L476.6,226.3 L477.1,226.3 L477.5,226.3 L478.0,226.3 L478.5,226.3 L479.0,226.3 L479.5,226.3 L479.9,226.3 L530.5,226.3" stroke="#7E2F8E" stroke-width="3.2"/>
</g>
<path d="M145.3,384.5 v-4.8 M145.3,27.8 v4.8 M241.6,384.5 v-4.8 M241.6,27.8 v4.8 M337.9,384.5 v-4.8 M337.9,27.8 v4.8 M434.2,384.5 v-4.8 M434.2,27.8 v4.8 M49.0,344.9 h4.8 M530.5,344.9 h-4.8 M49.0,305.2 h4.8 M530.5,305.2 h-4.8 M49.0,265.6 h4.8 M530.5,265.6 h-4.8 M49.0,226.0 h4.8 M530.5,226.0 h-4.8 M49.0,186.3 h4.8 M530.5,186.3 h-4.8 M49.0,146.7 h4.8 M530.5,146.7 h-4.8 M49.0,107.1 h4.8 M530.5,107.1 h-4.8 M49.0,67.4 h4.8 M530.5,67.4 h-4.8" stroke="#3a3a3a" stroke-width="1" fill="none"/>
<path d="M49,27.4 V385.1" stroke="#404040" stroke-width="1"/>
<path d="M48.5,28.05 H531.2" stroke="#4d4d4d" stroke-width="1.3"/>
<path d="M48.5,384.5 H531.2" stroke="#4d4d4d" stroke-width="1.3"/>
<path d="M530.55,27.4 V385.1" stroke="#4a4a4a" stroke-width="1.4"/>
<text transform="translate(48.3,406.6) scale(1.05,1)" font-size="15.8" text-anchor="middle" style="stroke-width:0.2px">0</text>
<text transform="translate(144.6,406.6) scale(1.05,1)" font-size="15.8" text-anchor="middle" style="stroke-width:0.2px">20</text>
<text transform="translate(240.9,406.6) scale(1.05,1)" font-size="15.8" text-anchor="middle" style="stroke-width:0.2px">40</text>
<text transform="translate(337.2,406.6) scale(1.05,1)" font-size="15.8" text-anchor="middle" style="stroke-width:0.2px">60</text>
<text transform="translate(433.5,406.6) scale(1.05,1)" font-size="15.8" text-anchor="middle" style="stroke-width:0.2px">80</text>
<text transform="translate(529.8,406.6) scale(1.05,1)" font-size="15.8" text-anchor="middle" style="stroke-width:0.2px">100</text>
<text transform="translate(43.7,391.2) scale(1.05,1)" font-size="15.8" text-anchor="end" style="stroke-width:0.2px">-4</text>
<text transform="translate(43.7,351.6) scale(1.05,1)" font-size="15.8" text-anchor="end" style="stroke-width:0.2px">-3</text>
<text transform="translate(43.7,311.9) scale(1.05,1)" font-size="15.8" text-anchor="end" style="stroke-width:0.2px">-2</text>
<text transform="translate(43.7,272.3) scale(1.05,1)" font-size="15.8" text-anchor="end" style="stroke-width:0.2px">-1</text>
<text transform="translate(43.7,232.7) scale(1.05,1)" font-size="15.8" text-anchor="end" style="stroke-width:0.2px">0</text>
<text transform="translate(43.7,193.0) scale(1.05,1)" font-size="15.8" text-anchor="end" style="stroke-width:0.2px">1</text>
<text transform="translate(43.7,153.4) scale(1.05,1)" font-size="15.8" text-anchor="end" style="stroke-width:0.2px">2</text>
<text transform="translate(43.7,113.8) scale(1.05,1)" font-size="15.8" text-anchor="end" style="stroke-width:0.2px">3</text>
<text transform="translate(43.7,74.1) scale(1.05,1)" font-size="15.8" text-anchor="end" style="stroke-width:0.2px">4</text>
<text transform="translate(43.7,34.5) scale(1.05,1)" font-size="15.8" text-anchor="end" style="stroke-width:0.2px">5</text>
<text x="49.7" y="25.6" font-size="19.8" style="font-weight:normal">×</text>
<text x="64.6" y="23.5" font-size="15.8" textLength="15.8" lengthAdjust="spacingAndGlyphs">10</text>
<text transform="translate(82.4,16.9) scale(1.05,1)" font-size="12.0" text-anchor="start">-4</text>
<text transform="translate(289.6,429.7) scale(1.115,1)" font-size="16.5" text-anchor="middle">Time (second)</text>
<text transform="translate(19.0,207.8) rotate(-90) scale(1.115,1)" font-size="16.5" text-anchor="middle">Delta Ptie (p.u.)</text>
<rect x="412" y="34.3" width="111.2" height="79.7" fill="#fff" stroke="#8c8c8c" stroke-width="1"/>
<path d="M414.2,45.5 H439.6" stroke="#0072BD" stroke-width="2"/>
<text transform="translate(441.8,50.8) scale(1.0,1)" font-size="15.0" text-anchor="start">PIDF</text>
<path d="M414.2,65.0 H439.6" stroke="#D95319" stroke-width="2"/>
<text transform="translate(441.8,70.3) scale(1.0,1)" font-size="15.0" text-anchor="start">ULC-PIDF</text>
<path d="M414.2,84.2 H439.6" stroke="#EDB120" stroke-width="2"/>
<text transform="translate(441.8,89.5) scale(1.0,1)" font-size="15.0" text-anchor="start">FPIDF</text>
<path d="M414.2,103.4 H439.6" stroke="#7E2F8E" stroke-width="3.2"/>
<text transform="translate(441.8,108.7) scale(1.0,1)" font-size="15.0" text-anchor="start">ULC-FPIDF</text>
<text class="ser" x="266" y="461.0" font-size="26.2" font-weight="normal" style="font-weight:normal">(</text>
<text class="ser" x="274.4" y="461.2" font-size="23">c</text>
<text class="ser" x="284.6" y="461.0" font-size="26.2" style="font-weight:normal">)</text>
</svg></body></html>
